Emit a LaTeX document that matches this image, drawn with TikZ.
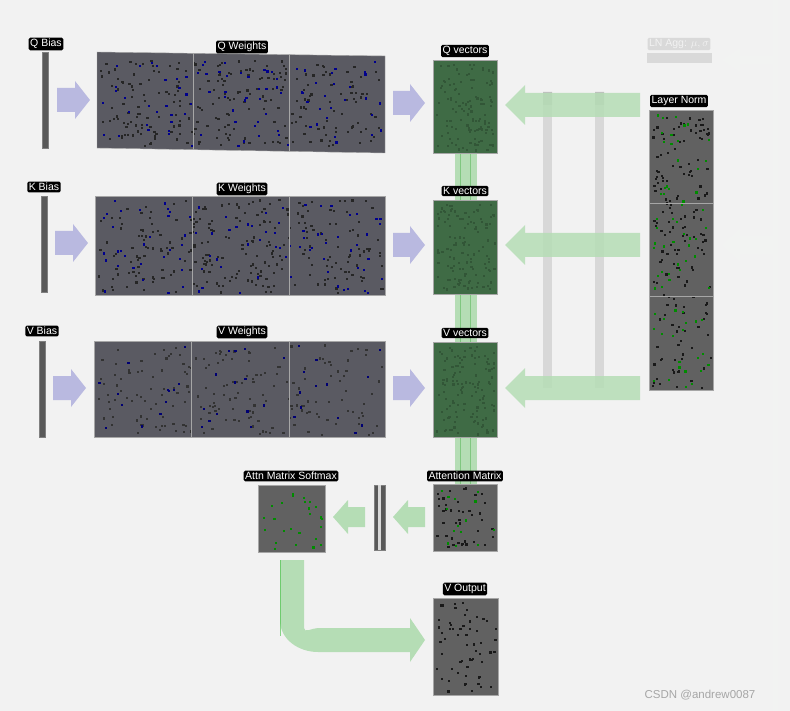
\documentclass[tikz,border=0pt]{standalone}
\usepackage{fontspec}
\setmainfont{Liberation Sans}
\usetikzlibrary{patterns,arrows.meta}
\definecolor{bg}{HTML}{F2F2F2}
\definecolor{wt}{HTML}{5A5A62}
\definecolor{vec}{HTML}{3F6B45}
\definecolor{pur}{HTML}{B9B9E0}
\definecolor{grn}{HTML}{B5DDB5}
\definecolor{gbar}{HTML}{D8D8D8}
\newcommand{\dotsin}[6]{% x0 y0 x1 y1 color count
 \foreach \i in {1,...,#6}{
  \pgfmathsetmacro{\px}{#1+3+rnd*(#3-#1-6)}
  \pgfmathsetmacro{\py}{#2+3+rnd*(#4-#2-6)}
  \fill[#5] (\px,\py) rectangle ++(2.2,2.2);}}
\begin{document}
\begin{tikzpicture}[x=1pt,y=-1pt,
 lab/.style={fill=black,text=white,rounded corners=1.5pt,inner sep=1.5pt,font=\fontsize{10.5}{12}\selectfont},
 wmat/.style={draw=gray!70,fill=wt},
 vmat/.style={draw=gray!70,fill=vec},
 amat/.style={draw=gray!70,fill=black!62},
 bias/.style={draw=gray,fill=black!65},
 parr/.style={fill=pur,draw=none},
 garr/.style={fill=grn,draw=none}]
\pgfmathsetseed{7}
\path[fill=bg] (0,0) rectangle (790,711);
\useasboundingbox (0,0) rectangle (790,711);
% faint right strip
\fill[green!4!gray!10] (773,0) rectangle (778,711);
\fill[green!4!gray!10] (722,60) -- (740,48) -- (740,56) -- (773,56) -- (773,64) -- (740,64) -- (740,72) -- cycle;
\fill[green!4!gray!10] (722,245) -- (740,228) -- (740,236) -- (773,236) -- (773,254) -- (740,254) -- (740,262) -- cycle;
% purple arrows
\foreach \y/\x in {100/57,243/55,388/53}{
 \fill[parr] (\x,\y-12) -- (\x+18,\y-12) -- (\x+18,\y-19) -- (\x+33,\y) -- (\x+18,\y+19) -- (\x+18,\y+12) -- (\x,\y+12) -- cycle;}
\foreach \y in {103,245,388}{
 \fill[parr] (393,\y-12) -- (410,\y-12) -- (410,\y-19) -- (425,\y) -- (410,\y+19) -- (410,\y+12) -- (393,\y+12) -- cycle;}
% green vertical between vectors
\fill[grn] (455,153) rectangle (477,484);
\draw[green!40!gray,opacity=.5] (460,153) -- (460,484) (470,153) -- (470,484);
% green pillars
\fill[gbar] (543,92) rectangle (552,388);
\fill[gbar] (595,92) rectangle (604,388);
\fill[gray!50] (543,92) rectangle (552,105) (595,92) rectangle (604,105);
% green arrows from layer norm
\foreach \y in {105,245,388}{
 \fill[garr,opacity=.85] (640,\y-12) -- (525,\y-12) -- (525,\y-20) -- (505,\y) -- (525,\y+20) -- (525,\y+12) -- (640,\y+12) -- cycle;}
% bias bars
\node[lab] (qb) at (46,44) {Q Bias};
\fill[bias] (42,52) rectangle (48,148);
\node[lab] (kb) at (44,187) {K Bias};
\fill[bias] (41,196) rectangle (47,292);
\node[lab] (vb) at (42,331) {V Bias};
\fill[bias] (39,341) rectangle (45,437);
% weights
\draw[wmat] (97,52) -- (385,56) -- (385,153) -- (97,148) -- cycle;
\dotsin{97}{56}{385}{148}{black!85}{260}
\dotsin{97}{56}{385}{148}{blue!55!black}{90}
\draw[gray!70] (193,53) -- (193,150) (289,55) -- (289,151);
\node[lab] (qw) at (242,47) {Q Weights};
\draw[wmat] (95,196) rectangle (385,295);
\dotsin{95}{196}{385}{295}{black!85}{260}
\dotsin{95}{196}{385}{295}{blue!55!black}{90}
\draw[gray!70] (192,196) -- (192,295) (289,196) -- (289,295);
\node[lab] (kw) at (242,189) {K Weights};
\draw[wmat] (94,341) rectangle (385,437);
\dotsin{94}{341}{385}{437}{black!80}{200}
\dotsin{94}{341}{385}{437}{blue!45!black}{40}
\draw[gray!70] (191,341) -- (191,437) (289,341) -- (289,437);
\node[lab] (vw) at (242,332) {V Weights};
% vectors
\foreach \a/\b in {60/153,200/294,342/437}{
 \draw[vmat] (433,\a) rectangle (497,\b);
 \foreach \xx in {433,441,...,489}{\foreach \yy in {\a,...,\b}{}}
 \dotsin{433}{\a}{497}{\b}{vec!80!black}{120}}
\node[lab] (qv) at (465,51) {Q vectors};
\node[lab] (kv) at (465,191) {K vectors};
\node[lab] (vv) at (465,333) {V vectors};
% layer norm
\draw[amat] (649,110) rectangle (713,390);
\dotsin{649}{110}{713}{390}{black!90}{160}
\dotsin{649}{110}{713}{390}{green!55!black}{70}
\draw[gray!70] (649,203) -- (713,203) (649,296) -- (713,296);
\node[lab] (ln) at (679,101) {Layer Norm};
\fill[gray!30] (647,53) rectangle (712,63);
\node[lab,fill=gray!30,text=gray!10] (lna) at (679,44) {LN Agg: $\mu,\sigma$};
% attention
\draw[amat] (433,484) rectangle (497,551);
\dotsin{433}{484}{497}{551}{black!90}{40}
\dotsin{433}{484}{497}{551}{green!55!black}{15}
\node[lab] (am) at (465,476) {Attention Matrix};
\fill[bias] (374,485) rectangle (385,550);
\fill[gray!30] (378,485) rectangle (381,550);
\foreach \x in {425,365}{
 \fill[garr] (\x,517-10) -- (\x-17,517-10) -- (\x-17,517-17) -- (\x-32,517) -- (\x-17,517+17) -- (\x-17,517+10) -- (\x,517+10) -- cycle;}
\draw[amat] (258,485) rectangle (325,552);
\dotsin{258}{485}{325}{552}{green!55!black}{25}
\node[lab] (sm) at (291,476) {Attn Matrix Softmax};
% softmax to output
\fill[garr] (280,560) -- (304,560) -- (304,628) to[out=-90,in=180] (318,628) -- (410,628) -- (410,618) -- (425,640) -- (410,662) -- (410,652) -- (318,652) to[out=180,in=-90] (280,620) -- cycle;
\draw[green!50!gray,opacity=.6] (280,560) -- (280,636);
% output
\draw[amat] (433,598) rectangle (498,695);
\dotsin{433}{598}{498}{695}{black!90}{60}
\node[lab] (vo) at (465,589) {V Output};
\node[text=gray!70,font=\fontsize{11.5}{13}\selectfont] (wm) at (700,695) {CSDN @andrew0087};
\end{tikzpicture}
\end{document}
